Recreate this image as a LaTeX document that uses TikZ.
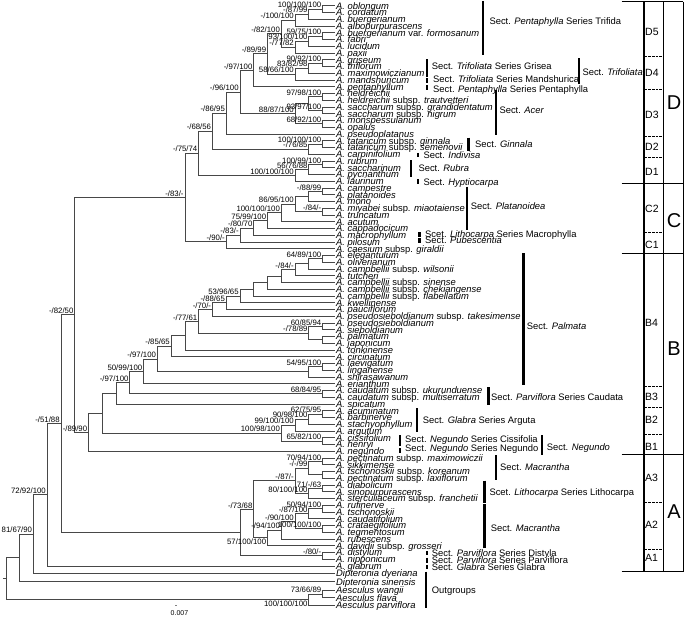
\documentclass[tikz,border=0pt]{standalone}
\usepackage{fontspec}
\setmainfont{Liberation Sans}
\usetikzlibrary{calc}
\tikzset{
 br/.style={draw=black!72, line width=0.8pt},
 lab/.style={anchor=south east, inner sep=0pt, xshift=-1.2pt, yshift=0.9pt, font=\fontsize{7.8}{8}\selectfont},
 labb/.style={anchor=north east, inner sep=0pt, xshift=-1.2pt, yshift=-1.2pt, font=\fontsize{7.8}{8}\selectfont},
 leaf/.style={anchor=base west, inner sep=0pt, font=\fontsize{9.4}{10}\selectfont},
 sect/.style={anchor=base west, inner sep=0pt, font=\fontsize{9.4}{10}\selectfont},
 bar/.style={draw=black, line width=2.4pt},
 boxl/.style={draw=black, line width=1.2pt},
 dsh/.style={draw=black, line width=0.7pt, dash pattern=on 2.5pt off 1.2pt},
 sub/.style={anchor=west, inner sep=0pt, font=\fontsize{10.5}{11}\selectfont},
 big/.style={inner sep=0pt, font=\fontsize{20}{22}\selectfont},
}
\newcommand\lf[3]{\coordinate (l#1) at (334.5pt,-#2pt); \node[leaf] (t#1) at (336pt,{-#2pt-3.4pt}) {#3};}
\newcommand\nd[4]{\path let \p1=(#3), \p2=(#4) in ({336.4pt-13.77pt*#2},{0.5*\y1+0.5*\y2}) coordinate (#1); \draw[br] (#1) |- (#3) (#1) |- (#4);}
\newcommand\lb[2]{\node[lab] (b#1) at (#1) {#2};}
\newcommand\lbb[2]{\node[labb] (b#1) at (#1) {#2};}
\newcommand\sct[4]{\node[sect] (#1) at (#2pt,{-#3pt-3.4pt}) {#4};}
\newcommand\sbar[3]{\draw[bar] (#1pt,-#2pt) -- (#1pt,-#3pt);}
\begin{document}
\begin{tikzpicture}
\useasboundingbox (0pt,0pt) rectangle (685pt,-617pt);
% leaves
\lf{1}{5.7}{\textit{A. oblongum}}
\lf{2}{12.45}{\textit{A. cordatum}}
\lf{3}{19.2}{\textit{A. buergerianum}}
\lf{4}{25.95}{\textit{A. albopurpurascens}}
\lf{5}{32.7}{\textit{A. buergerianum} var. \textit{formosanum}}
\lf{6}{39.45}{\textit{A. fabri}}
\lf{7}{46.2}{\textit{A. lucidum}}
\lf{8}{52.95}{\textit{A. paxii}}
\lf{9}{59.7}{\textit{A. griseum}}
\lf{10}{66.45}{\textit{A. triflorum}}
\lf{11}{73.2}{\textit{A. maximowiczianum}}
\lf{12}{79.95}{\textit{A. mandshuricum}}
\lf{13}{86.7}{\textit{A. pentaphyllum}}
\lf{14}{93.45}{\textit{A. heldreichii}}
\lf{15}{100.2}{\textit{A. heldreichii} subsp. \textit{trautvetteri}}
\lf{16}{106.95}{\textit{A. saccharum} subsp. \textit{grandidentatum}}
\lf{17}{113.7}{\textit{A. saccharum} subsp. \textit{nigrum}}
\lf{18}{120.45}{\textit{A. monspessulanum}}
\lf{19}{127.2}{\textit{A. opalus}}
\lf{20}{133.95}{\textit{A. pseudoplatanus}}
\lf{21}{140.7}{\textit{A. tataricum} subsp. \textit{ginnala}}
\lf{22}{147.45}{\textit{A. tataricum} subsp. \textit{semenovii}}
\lf{23}{154.2}{\textit{A. carpinifolium}}
\lf{24}{160.95}{\textit{A. rubrum}}
\lf{25}{167.7}{\textit{A. saccharinum}}
\lf{26}{174.45}{\textit{A. pycnanthum}}
\lf{27}{181.2}{\textit{A. laurinum}}
\lf{28}{187.95}{\textit{A. campestre}}
\lf{29}{194.7}{\textit{A. platanoides}}
\lf{30}{201.45}{\textit{A. mono}}
\lf{31}{208.2}{\textit{A. miyabei} subsp. \textit{miaotaiense}}
\lf{32}{214.95}{\textit{A. truncatum}}
\lf{33}{221.7}{\textit{A. acutum}}
\lf{34}{228.45}{\textit{A. cappadocicum}}
\lf{35}{235.2}{\textit{A. macrophyllum}}
\lf{36}{241.95}{\textit{A. pilosum}}
\lf{37}{248.7}{\textit{A. caesium} subsp. \textit{giraldii}}
\lf{38}{255.45}{\textit{A. elegantulum}}
\lf{39}{262.2}{\textit{A. oliverianum}}
\lf{40}{268.95}{\textit{A. campbellii} subsp. \textit{wilsonii}}
\lf{41}{275.7}{\textit{A. tutcheri}}
\lf{42}{282.45}{\textit{A. campbellii} subsp. \textit{sinense}}
\lf{43}{289.2}{\textit{A. campbellii} subsp. \textit{chekiangense}}
\lf{44}{295.95}{\textit{A. campbellii} subsp. \textit{flabellatum}}
\lf{45}{302.7}{\textit{A. kweilinense}}
\lf{46}{309.45}{\textit{A. pauciflorum}}
\lf{47}{316.2}{\textit{A. pseudosieboldianum} subsp. \textit{takesimense}}
\lf{48}{322.95}{\textit{A. pseudosieboldianum}}
\lf{49}{329.7}{\textit{A. sieboldianum}}
\lf{50}{336.45}{\textit{A. palmatum}}
\lf{51}{343.2}{\textit{A. japonicum}}
\lf{52}{349.95}{\textit{A. tonkinense}}
\lf{53}{356.7}{\textit{A. circinatum}}
\lf{54}{363.45}{\textit{A. laevigatum}}
\lf{55}{370.2}{\textit{A. linganense}}
\lf{56}{376.95}{\textit{A. shirasawanum}}
\lf{57}{383.7}{\textit{A. erianthum}}
\lf{58}{390.45}{\textit{A. caudatum} subsp. \textit{ukurunduense}}
\lf{59}{397.2}{\textit{A. caudatum} subsp. \textit{multiserratum}}
\lf{60}{403.95}{\textit{A. spicatum}}
\lf{61}{410.7}{\textit{A. acuminatum}}
\lf{62}{417.45}{\textit{A. barbinerve}}
\lf{63}{424.2}{\textit{A. stachyophyllum}}
\lf{64}{430.95}{\textit{A. argutum}}
\lf{65}{437.7}{\textit{A. cissifolium}}
\lf{66}{444.45}{\textit{A. henryi}}
\lf{67}{451.2}{\textit{A. negundo}}
\lf{68}{457.95}{\textit{A. pectinatum} subsp. \textit{maximowiczii}}
\lf{69}{464.7}{\textit{A. sikkimense}}
\lf{70}{471.45}{\textit{A. tschonoskii} subsp. \textit{koreanum}}
\lf{71}{478.2}{\textit{A. pectinatum} subsp. \textit{laxiflorum}}
\lf{72}{484.95}{\textit{A. diabolicum}}
\lf{73}{491.7}{\textit{A. sinopurpurascens}}
\lf{74}{498.45}{\textit{A. sterculiaceum} subsp. \textit{franchetii}}
\lf{75}{505.2}{\textit{A. rufinerve}}
\lf{76}{511.95}{\textit{A. tschonoskii}}
\lf{77}{518.7}{\textit{A. caudatifolium}}
\lf{78}{525.45}{\textit{A. crataegifolium}}
\lf{79}{532.2}{\textit{A. tegmentosum}}
\lf{80}{538.95}{\textit{A. rubescens}}
\lf{81}{545.7}{\textit{A. davidii} subsp. \textit{grosseri}}
\lf{82}{552.45}{\textit{A. distylum}}
\lf{83}{559.2}{\textit{A. nipponicum}}
\lf{84}{565.95}{\textit{A. glabrum}}
\lf{85}{573.3}{\textit{Dipteronia dyeriana}}
\lf{86}{581.7}{\textit{Dipteronia sinensis}}
\lf{87}{590.5}{\textit{Aesculus wangii}}
\lf{88}{597.7}{\textit{Aesculus flava}}
\lf{89}{605}{\textit{Aesculus parviflora}}
% internal nodes
\nd{N1}{1}{l1}{l2}
\nd{N2}{2}{N1}{l3}
\nd{N3}{3}{N2}{l4}
\nd{N4}{1}{l5}{l6}
\nd{N5}{2}{N4}{l7}
\nd{N6}{3}{N5}{l8}
\nd{N7}{4}{N3}{N6}
\nd{N8}{1}{l9}{l10}
\nd{N9}{2}{N8}{l11}
\nd{N10}{3}{N9}{l12}
\nd{N11}{5}{N7}{N10}
\nd{N12}{6}{N11}{l13}
\nd{Ac1}{1}{l14}{l15}
\nd{Ac2}{1}{l16}{l17}
\nd{Ac3}{2}{Ac1}{Ac2}
\nd{Ac4}{1}{l18}{l19}
\nd{Ac5}{3}{Ac3}{Ac4}
\nd{N14}{7}{N12}{Ac5}
\nd{N15}{8}{N14}{l20}
\nd{G1}{1}{l21}{l22}
\nd{G2}{2}{G1}{l23}
\nd{N16}{9}{N15}{G2}
\nd{R1}{1}{l24}{l25}
\nd{R2}{2}{R1}{l26}
\nd{R3}{3}{R2}{l27}
\nd{N17}{10}{N16}{R3}
\nd{C1}{1}{l28}{l29}
\nd{C2}{2}{C1}{l30}
\nd{C3}{1}{l31}{l32}
\nd{C4}{3}{C2}{C3}
\nd{C5}{4}{C4}{l33}
\nd{C6}{5}{C5}{l34}
\nd{C7}{6}{C6}{l35}
\nd{C8}{7}{C7}{l36}
\nd{C9}{8}{C8}{l37}
\nd{DC}{11}{N17}{C9}
\nd{L1}{1}{l38}{l39}
\nd{L2}{2}{L1}{l40}
\nd{L3}{3}{L2}{l41}
\nd{L4}{4}{L3}{l42}
\nd{L5}{5}{L4}{l43}
\nd{L6}{6}{L5}{l44}
\nd{L7}{7}{L6}{l45}
\nd{L8}{8}{L7}{l46}
\nd{L9}{9}{L8}{l47}
\nd{M1}{1}{l48}{l49}
\nd{M2}{1}{l50}{l51}
\nd{M3}{2}{M1}{M2}
\nd{L10}{10}{L9}{M3}
\nd{L11}{11}{L10}{l52}
\nd{L12}{12}{L11}{l53}
\nd{P1}{1}{l54}{l55}
\nd{P2}{2}{P1}{l56}
\nd{L13}{13}{L12}{P2}
\nd{L14}{14}{L13}{l57}
\nd{Q1}{1}{l58}{l59}
\nd{L15}{15}{L14}{Q1}
\nd{L16}{16}{L15}{l60}
\nd{Gl1}{1}{l61}{l62}
\nd{Gl2}{2}{Gl1}{l63}
\nd{Gl3}{3}{Gl2}{l64}
\nd{Ng1}{1}{l65}{l66}
\nd{Gl4}{4}{Gl3}{Ng1}
\nd{B17}{17}{L16}{Gl4}
\nd{B18}{18}{B17}{l67}
\nd{T19}{19}{DC}{B18}
\nd{A1}{1}{l68}{l69}
\nd{A2}{1}{l70}{l71}
\nd{A3}{2}{A1}{A2}
\nd{A4}{1}{l72}{l73}
\nd{A5}{2}{A4}{l74}
\nd{A6}{3}{A3}{A5}
\nd{Ma1}{1}{l75}{l76}
\nd{Ma2}{2}{Ma1}{l77}
\nd{Mb1}{1}{l78}{l79}
\nd{Ma3}{3}{Ma2}{Mb1}
\nd{Ma4}{4}{Ma3}{l80}
\nd{Ma5}{5}{Ma4}{l81}
\nd{A7}{6}{A6}{Ma5}
\nd{Di}{1}{l82}{l83}
\nd{A8}{7}{A7}{Di}
\nd{T20}{20}{T19}{A8}
\nd{T21}{21}{T20}{l84}
\nd{T22}{22}{T21}{l85}
\nd{T23}{23}{T22}{l86}
\nd{Ae1}{1}{l87}{l88}
\nd{Ae2}{2}{Ae1}{l89}
\nd{Root}{24}{T23}{Ae2}
\coordinate (rs) at ($(Root)+(-3pt,0pt)$);
\draw[br] (rs) -- (Root);
% support labels
\lb{N1}{100/100/100} \lb{N2}{-/87/99} \lb{N3}{-/100/100}
\lb{N4}{59/75/100} \lb{N5}{93/100/100} \lb{N6}{-/77/82}
\lb{N7}{-/82/100} \lb{N8}{90/92/100} \lb{N9}{83/82/98}
\lb{N10}{58/66/100} \lb{N11}{-/89/99} \lb{N12}{-/97/100}
\lb{Ac1}{97/98/100} \lb{Ac2}{93/97/100} \lb{Ac4}{68/92/100}
\lb{Ac5}{88/87/100} \lb{N14}{-/96/100} \lb{N15}{-/86/95}
\lb{G1}{100/100/100} \lb{G2}{-/76/85} \lb{N16}{-/68/56}
\lb{R1}{100/99/100} \lb{R2}{56/76/88} \lb{R3}{100/100/100}
\lb{N17}{-/75/74}
\lb{C1}{-/88/99} \lb{C3}{-/84/-} \lb{C4}{86/95/100}
\lb{C5}{100/100/100} \lb{C6}{75/99/100} \lb{C7}{-/80/70}
\lb{C8}{-/83/-} \lb{C9}{-/90/-} \lb{DC}{-/83/-}
\lb{L1}{64/89/100} \lb{L3}{-/84/-} \lb{L7}{53/96/65}
\lb{L8}{-/88/65} \lb{L9}{-/70/-} \lb{M1}{60/85/94}
\lb{M3}{-/78/89} \lb{L10}{-/77/61} \lb{L12}{-/85/65}
\lb{P1}{54/95/100} \lb{L13}{-/97/100} \lb{L14}{50/99/100}
\lb{Q1}{68/84/95} \lb{L15}{-/97/100}
\lb{Gl1}{62/75/95} \lb{Gl2}{90/98/100} \lb{Gl3}{99/100/100}
\lb{Ng1}{65/82/100} \lb{Gl4}{100/98/100} \lb{B18}{-/89/90}
\lb{T19}{-/82/50}
\lb{A1}{70/94/100} \lb{A3}{-/-/99} \lb{A4}{71/-/63}
\lb{A5}{80/100/100} \lb{A6}{-/87/-} \lb{Ma1}{50/94/100}
\lb{Ma2}{-/87/100} \lb{Mb1}{100/100/100} \lb{Ma3}{-/90/100}
\lb{Ma4}{-/94/100} \lbb{Ma5}{57/100/100} \lb{A7}{-/73/68}
\lb{Di}{-/80/-} \lb{T20}{-/51/88} \lb{T21}{72/92/100}
\lb{T22}{81/67/90} \lb{Ae1}{73/66/89} \lbb{Ae2}{100/100/100}
% scale
\draw[draw=black!50, line width=0.6pt] (175pt,-605pt) -- (176.7pt,-605pt);
\node[inner sep=0pt, font=\fontsize{7}{8}\selectfont] (scl) at (179.5pt,-613.3pt) {0.007};
% section bars
\sbar{482.7}{1}{55}
\sbar{426.7}{59.3}{76.7}
\sbar{426.7}{78.5}{83}
\sbar{426.7}{85.5}{90}
\sbar{579}{58.3}{84}
\sbar{495.7}{90}{135}
\sbar{468.3}{137.7}{150.7}
\sbar{417.7}{153}{157.5}
\sbar{411}{160.5}{177}
\sbar{417.7}{179.5}{184}
\sbar{466.7}{186.7}{230}
\sbar{419.3}{232.5}{237.3}
\sbar{419.3}{238.5}{243.5}
\sbar{523.3}{253.3}{385}
\sbar{488.3}{387.3}{405}
\sbar{416.7}{408.3}{431.7}
\sbar{400}{435}{445.7}
\sbar{400}{448}{452.5}
\sbar{541.7}{435}{455}
\sbar{496}{455}{480}
\sbar{484.3}{480.7}{502.7}
\sbar{484.3}{504}{548.3}
\sbar{426.7}{551}{555}
\sbar{426.7}{557.7}{562.7}
\sbar{426.7}{565}{569.3}
\sbar{426}{571.7}{608.3}
% section labels
\sct{s1}{489.3}{21}{Sect. \textit{Pentaphylla} Series Trifida}
\sct{s2}{431.7}{66.5}{Sect. \textit{Trifoliata} Series Grisea}
\sct{s3}{433}{79.3}{Sect. \textit{Trifoliata} Series Mandshurica}
\sct{s4}{433}{88.7}{Sect. \textit{Pentaphylla} Series Pentaphylla}
\sct{s5}{582.3}{72}{Sect. \textit{Trifoliata}}
\sct{s6}{499.3}{110}{Sect. \textit{Acer}}
\sct{s7}{475}{144}{Sect. \textit{Ginnala}}
\sct{s8}{423.3}{155}{Sect. \textit{Indivisa}}
\sct{s9}{418.3}{168.3}{Sect. \textit{Rubra}}
\sct{s10}{423.3}{181.7}{Sect. \textit{Hyptiocarpa}}
\sct{s11}{470.7}{205.7}{Sect. \textit{Platanoidea}}
\sct{s12}{425}{234}{Scet. \textit{Lithocarpa} Series Macrophylla}
\sct{s13}{425}{240}{Sect. \textit{Pubescentia}}
\sct{s14}{526.7}{326}{Sect. \textit{Palmata}}
\sct{s15}{491}{396.7}{Sect. \textit{Parviflora} Series Caudata}
\sct{s16}{422.7}{420}{Sect. \textit{Glabra} Series Arguta}
\sct{s17}{405}{439.3}{Sect. \textit{Negundo} Series Cissifolia}
\sct{s18}{405}{448.5}{Sect. \textit{Negundo} Series Negundo}
\sct{s19}{546.7}{446.7}{Sect. \textit{Negundo}}
\sct{s20}{500}{466.7}{Sect. \textit{Macrantha}}
\sct{s21}{489.3}{491.7}{Scet. \textit{Lithocarpa} Series Lithocarpa}
\sct{s22}{490.7}{528.3}{Sect. \textit{Macrantha}}
\sct{s23}{431.7}{553.5}{Sect. \textit{Parviflora} Series Distyla}
\sct{s24}{431.7}{560}{Sect. \textit{Parviflora} Series Parviflora}
\sct{s25}{431.7}{566.7}{Sect. \textit{Glabra} Series Glabra}
\sct{s26}{431.7}{590}{Outgroups}
% clade box
\foreach \yy in {1.7,183.3,253.3,454.3,571.7} \draw[boxl] (621.7pt,-\yy pt) -- (683.3pt,-\yy pt);
\foreach \xx in {644,663.3,683.3} \draw[boxl] (\xx pt,-1.7pt) -- (\xx pt,-571.7pt);
\foreach \yy in {56.7,89.3,136,157.7,232.3,386.7,407.3,434.3,502.3,549.3} \draw[dsh] (644.6pt,-\yy pt) -- (662.7pt,-\yy pt);
\node[sub] (gD5) at (645pt,-32.3pt) {D5};
\node[sub] (gD4) at (645pt,-72.7pt) {D4};
\node[sub] (gD3) at (645pt,-115pt) {D3};
\node[sub] (gD2) at (645pt,-146.7pt) {D2};
\node[sub] (gD1) at (645pt,-171.7pt) {D1};
\node[sub] (gC2) at (645pt,-209.3pt) {C2};
\node[sub] (gC1) at (645pt,-245pt) {C1};
\node[sub] (gB4) at (645pt,-322.7pt) {B4};
\node[sub] (gB3) at (645pt,-397.3pt) {B3};
\node[sub] (gB2) at (645pt,-420pt) {B2};
\node[sub] (gB1) at (645pt,-446.7pt) {B1};
\node[sub] (gA3) at (645pt,-478.3pt) {A3};
\node[sub] (gA2) at (645pt,-525pt) {A2};
\node[sub] (gA1) at (645pt,-558.3pt) {A1};
\node[big] (gD) at (674pt,-102.7pt) {D};
\node[big] (gC) at (674pt,-220.7pt) {C};
\node[big] (gB) at (674pt,-348.3pt) {B};
\node[big] (gA) at (674pt,-511.7pt) {A};
\end{tikzpicture}
\end{document}
